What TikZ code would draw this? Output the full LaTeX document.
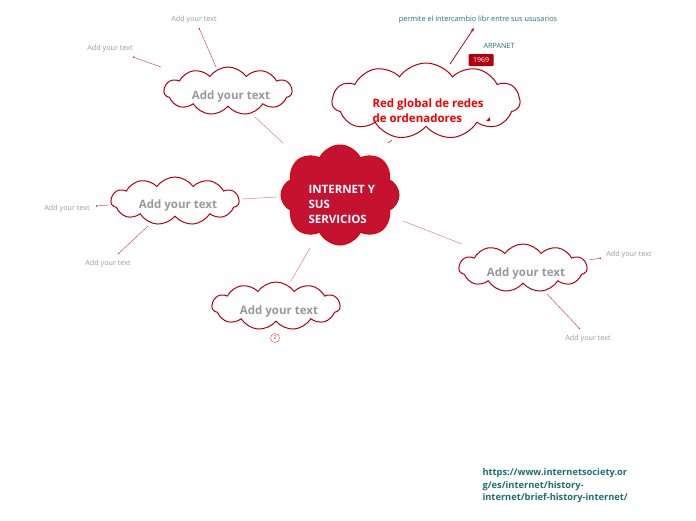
\documentclass[tikz,border=0pt]{standalone}
\usepackage{fontspec}
\setmainfont{Open Sans}
\usetikzlibrary{shapes.symbols,arrows.meta}
\definecolor{crim}{HTML}{C41230}
\definecolor{dred}{HTML}{B00010}
\definecolor{lred}{HTML}{E08080}
\definecolor{gtxt}{HTML}{999999}
\definecolor{teal}{HTML}{1F6F6F}
\tikzset{
 cl/.style={cloud, cloud puffs=11, cloud puff arc=110, aspect=2.7, draw=dred, line width=1pt, fill=white, minimum width=128pt, minimum height=48pt, inner sep=0pt},
 ctext/.style={font=\bfseries\fontsize{11.5}{13}\selectfont, text=gtxt},
 small/.style={font=\fontsize{7.2}{8}\selectfont, text=gtxt},
 conn/.style={draw=lred, line width=0.5pt},
 sconn/.style={draw=dred!80, line width=0.4pt, -{Circle[length=1.6pt]}},
}
\begin{document}
\begin{tikzpicture}[x=1pt,y=-1pt]
\useasboundingbox (0,0) rectangle (696,520);
% clouds
\node[cl, cloud puffs=8, cloud puff arc=130, aspect=1.2, fill=crim, draw=red!90!black, minimum width=118pt, minimum height=100pt] (c) at (340,195) {};
\node[font=\bfseries\fontsize{11.5}{15}\selectfont, text=white, align=left, anchor=west] (ct) at (305,204) {INTERNET Y\\SUS\\SERVICIOS};
\node[cl] (tl) at (228,91) {};
\node[ctext] at (231,97) {Add your text};
\node[cl] (l) at (175,201) {};
\node[ctext] at (178,206) {Add your text};
\node[cl] (b) at (276,306) {};
\node[ctext] at (279,312) {Add your text};
\node[cl] (r) at (523,268) {};
\node[ctext] at (526,274) {Add your text};
\node[cl, minimum width=188pt, minimum height=76pt, aspect=2.5] (tr) at (426,101) {};
\node[font=\bfseries\fontsize{11.5}{15}\selectfont, text=red!95!black, align=left, anchor=west] at (369,111) {Red global de redes\\de ordenadores};
\fill[dred] (486,121) -- (490,117) -- (490,121) -- cycle;
% connectors
\coordinate (a1) at (255,117); \coordinate (a2) at (283,143);
\draw[conn] (a1) -- (a2);
\coordinate (b1) at (242,199); \coordinate (b2) at (277,197);
\draw[conn] (b1) -- (b2);
\coordinate (d1) at (291,281); \coordinate (d2) at (310,248);
\draw[conn] (d1) -- (d2);
\coordinate (e1) at (403,221); \coordinate (e2) at (462,244);
\draw[conn] (e1) -- (e2);
\coordinate (f1) at (392,140); \coordinate (f2) at (388,143);
\draw[conn, draw=dred] (f1) -- (f2);
% small texts
\node[small] (s1) at (194,20) {Add your text};
\coordinate (s1a) at (216,67); \coordinate (s1b) at (199,28);
\draw[sconn] (s1a) -- (s1b);
\node[small] (s2) at (110,49) {Add your text};
\coordinate (s2a) at (161,67); \coordinate (s2b) at (133,57);
\draw[sconn] (s2a) -- (s2b);
\node[small] (s3) at (67,209) {Add your text};
\coordinate (s3a) at (109,205); \coordinate (s3b) at (96,206);
\draw[sconn] (s3a) -- (s3b);
\node[small] (s4) at (108,264) {Add your text};
\coordinate (s4a) at (148,226); \coordinate (s4b) at (118,254);
\draw[sconn] (s4a) -- (s4b);
\node[small] (s5) at (629,255) {Add your text};
\coordinate (s5a) at (589,260); \coordinate (s5b) at (601,258);
\draw[sconn] (s5a) -- (s5b);
\node[small] (s6) at (588,339) {Add your text};
\coordinate (s6a) at (547,294); \coordinate (s6b) at (580,329);
\draw[sconn] (s6a) -- (s6b);
% top right
\node[font=\fontsize{7.3}{8}\selectfont, text=teal] (p) at (478,20) {permite el intercambio libr entre sus ususarios};
\coordinate (pa) at (450,64); \coordinate (pb) at (474,28);
\draw[draw=dred, line width=0.8pt, -{Stealth[length=4pt]}] (pa) -- (pb);
\node[font=\fontsize{7.2}{8}\selectfont, text=teal] (ar) at (499,46) {ARPANET};
\node[fill=dred, text=white, font=\fontsize{7}{8}\selectfont, inner sep=1.5pt, minimum width=25pt, minimum height=12pt, rounded corners=1pt] (y) at (481,60) {1969};
% circle 2
\node[circle, draw=red!80, text=red!80, font=\fontsize{5.5}{6}\selectfont, inner sep=0.5pt, minimum size=9pt] (two) at (275,338) {2};
% url
\node[font=\bfseries\fontsize{9.3}{12.5}\selectfont, text=teal, align=left, anchor=north west] (u) at (479,465) {https://www.internetsociety.or\\g/es/internet/history-\\internet/brief-history-internet/};
\end{tikzpicture}
\end{document}
